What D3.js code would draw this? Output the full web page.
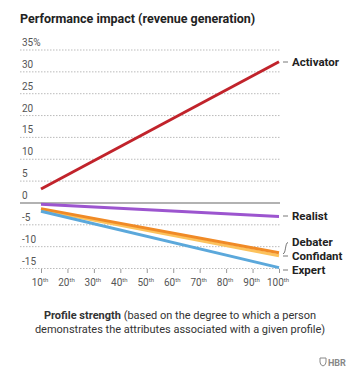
<!DOCTYPE html>
<html>
<head>
<meta charset="utf-8">
<script src="https://cdn.jsdelivr.net/npm/d3@7"></script>
<style>
  body { margin: 0; background: #fff; }
  svg { font-family: "Roboto", "Liberation Sans", sans-serif; }
  .lbl { font-family: "Roboto", sans-serif; font-weight: bold; font-size: 11.5px; fill: #222; }
</style>
</head>
<body>
<div class="chart"></div>
<script>
var percentiles = [10, 20, 30, 40, 50, 60, 70, 80, 90, 100];
var yTicks = [-15, -10, -5, 0, 5, 10, 15, 20, 25, 30, 35];

var profiles = ["Activator", "Realist", "Debater", "Confidant", "Expert"];
var startValues = [3.2, -0.3, -1.3, -1.6, -1.9];
var endValues = [32.3, -3.1, -11.4, -12.1, -14.8];
var colors = ["#c1232b", "#9c55cf", "#f08a26", "#fcc25c", "#5ba8db"];

var svgWidth = 361;
var svgHeight = 380;

var svg = d3.select(".chart")
  .append("svg")
  .attr("width", svgWidth)
  .attr("height", svgHeight);

var xScale = d3.scaleLinear()
  .domain([10, 100])
  .range([41, 279]);

var yScale = d3.scaleLinear()
  .domain([-15, 35])
  .range([268.5, 50]);

// title
svg.append("text")
  .attr("x", 20)
  .attr("y", 23)
  .style("font-size", "12.5px")
  .style("font-weight", "bold")
  .style("fill", "#222")
  .text("Performance impact (revenue generation)");

// gridlines
svg.append("g")
  .selectAll("line")
  .data(yTicks)
  .enter()
  .append("line")
  .attr("x1", 20)
  .attr("x2", 280)
  .attr("y1", d => yScale(d))
  .attr("y2", d => yScale(d))
  .attr("stroke", d => d === 0 ? "#999" : "#aaa")
  .attr("stroke-width", d => d === 0 ? 1.5 : 0.8)
  .attr("stroke-dasharray", d => d === 0 ? null : "1.5,1.5");

svg.append("g")
  .selectAll("text")
  .data(yTicks)
  .enter()
  .append("text")
  .attr("x", 22)
  .attr("y", d => yScale(d) - 4)
  .style("font-size", "10px")
  .style("fill", "#555")
  .text(d => d === 35 ? "35%" : d);

// x axis
var xAxis = d3.axisBottom(xScale)
  .tickValues(percentiles)
  .tickSize(4)
  .tickFormat("");

var xg = svg.append("g")
  .attr("transform", "translate(0, 269)")
  .call(xAxis);
xg.select(".domain").remove();
xg.selectAll(".tick line").attr("stroke", "#999");

var xl = svg.append("g")
  .selectAll("text")
  .data(percentiles)
  .enter()
  .append("text")
  .attr("x", d => xScale(d) - 1)
  .attr("y", 286)
  .attr("text-anchor", "middle")
  .style("font-size", "10px")
  .style("fill", "#555");
xl.append("tspan").text(d => d);
xl.append("tspan")
  .attr("dy", -4)
  .style("font-size", "6px")
  .text("th");

// lines
var lineData = profiles.map(function(p, i) {
  return { name: p, color: colors[i], values: [[10, startValues[i]], [100, endValues[i]]] };
});

var line = d3.line()
  .x(d => xScale(d[0]))
  .y(d => yScale(d[1]));

var order = [3, 2, 4, 1, 0];
svg.append("g")
  .selectAll("path")
  .data(order.map(i => lineData[i]))
  .enter()
  .append("path")
  .attr("d", d => line(d.values))
  .attr("fill", "none")
  .attr("stroke", d => d.color)
  .attr("stroke-width", 3);

// labels
var labelY = [62, 216, 241.5, 256, 270];
var lg = svg.append("g");
profiles.forEach(function(p, i) {
  var ly = labelY[i];
  if (p === "Debater") {
    var y0 = yScale(endValues[i]);
    lg.append("path")
      .attr("d", "M283," + (y0 + 1) + " C286," + (y0 + 1) + " 285," + (ly + 1) + " 288," + (ly + 1))
      .attr("fill", "none")
      .attr("stroke", "#555")
      .attr("stroke-width", 0.8);
  } else {
    lg.append("line")
      .attr("x1", 283)
      .attr("x2", 288)
      .attr("y1", ly)
      .attr("y2", ly)
      .attr("stroke", "#555")
      .attr("stroke-width", 0.8);
  }
  lg.append("text")
    .attr("class", "lbl")
    .attr("x", 292)
    .attr("y", ly + 4)
    .text(p);
});

// axis title
var foot = svg.append("text")
  .attr("text-anchor", "middle")
  .style("font-size", "11px")
  .style("fill", "#333");
var t1 = foot.append("tspan").attr("x", 180).attr("y", 319);
t1.append("tspan").style("font-weight", "bold").text("Profile strength");
t1.append("tspan").text(" (based on the degree to which a person");
foot.append("tspan").attr("x", 180).attr("y", 333)
  .text("demonstrates the attributes associated with a given profile)");

// logo
svg.append("path")
  .attr("d", "M320,358 h6 v4 q0,3 -3,4 q-3,-1 -3,-4 z")
  .attr("fill", "none")
  .attr("stroke", "#888")
  .attr("stroke-width", 1);
svg.append("text")
  .attr("x", 328)
  .attr("y", 366)
  .style("font-size", "9px")
  .style("font-weight", "bold")
  .style("fill", "#888")
  .text("HBR");
</script>
</body>
</html>
